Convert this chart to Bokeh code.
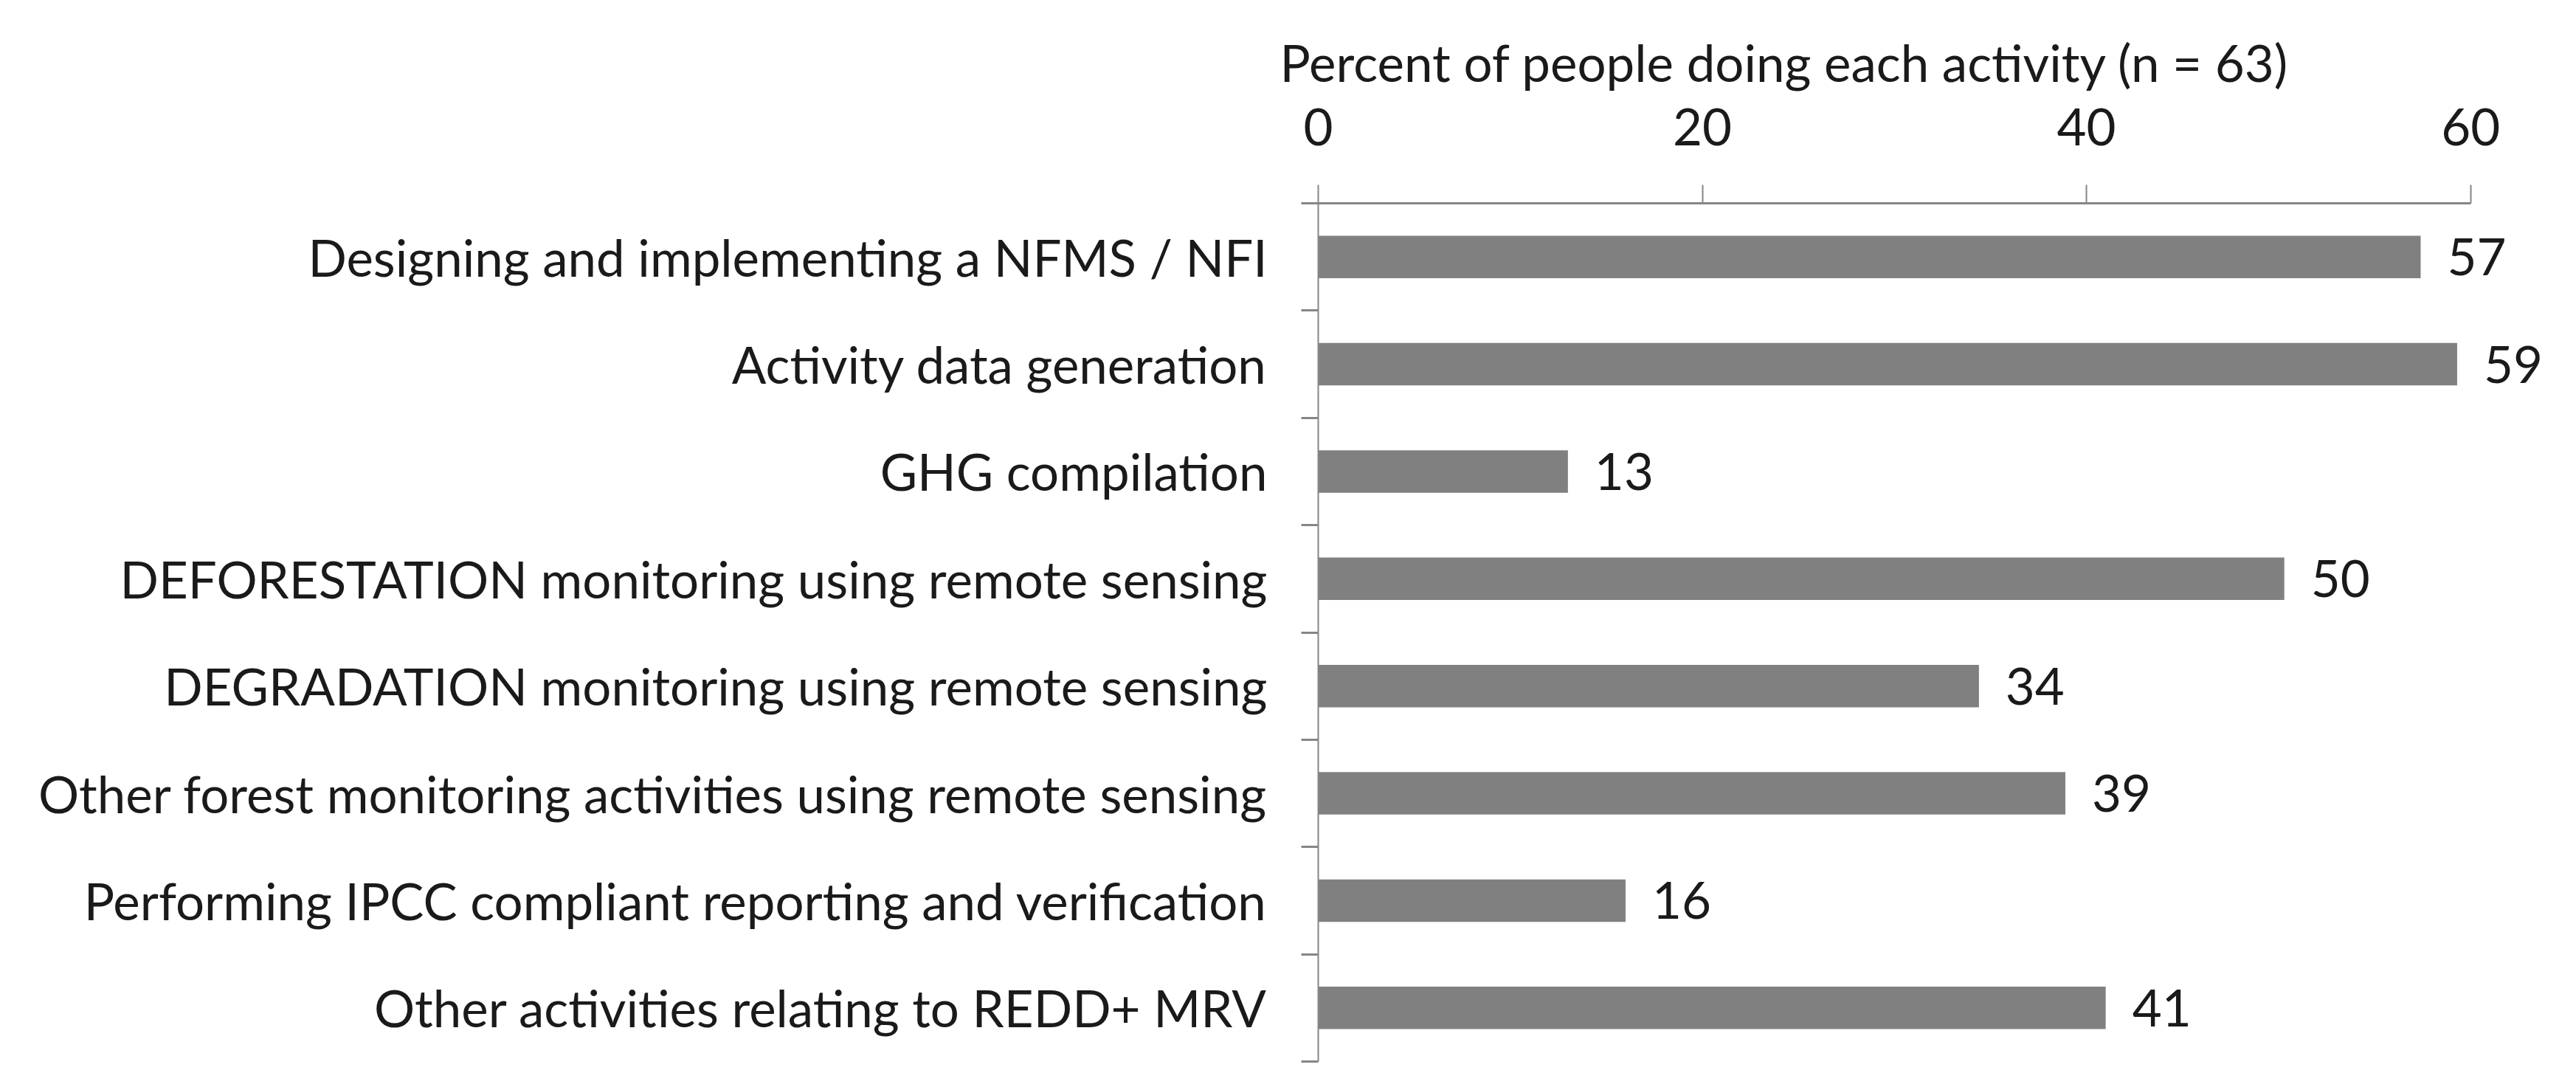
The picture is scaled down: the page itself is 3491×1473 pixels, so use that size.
from bokeh.plotting import figure
from bokeh.models import ColumnDataSource, FixedTicker, Range1d, LabelSet, Title
from bokeh.core.properties import value
from bokeh.embed import file_html
from bokeh.resources import INLINE

categories = [
    "Designing and implementing a NFMS / NFI",
    "Activity data generation",
    "GHG compilation",
    "DEFORESTATION monitoring using remote sensing",
    "DEGRADATION monitoring using remote sensing",
    "Other forest monitoring activities using remote sensing",
    "Performing IPCC compliant reporting and verification",
    "Other activities relating to REDD+ MRV",
]
values = [57.4, 59.3, 13.0, 50.3, 34.4, 38.9, 16.0, 41.0]
value_labels = ["57", "59", "13", "50", "34", "39", "16", "41"]
x_ticks = [0, 20, 40, 60]
axis_title = "Percent of people doing each activity (n = 63)"

FONT = "Lato"
FS = "69px"
GRAY = "#868686"
TXT = "#1a1a1a"

n = len(categories)
centers = [i + 0.5 for i in range(n)]
bounds = [float(i) for i in range(n + 1)]

src = ColumnDataSource(dict(y=centers, v=values, lab=value_labels))

p = figure(
    frame_width=1684, frame_height=1163,
    x_range=Range1d(0, 64.7), y_range=Range1d(n, 0),
    x_axis_location="above",
    output_backend="svg", toolbar_location=None,
    min_border_left=1786, min_border_top=275, min_border_right=0, min_border_bottom=20,
)
p.outline_line_color = None
p.xgrid.visible = False
p.ygrid.visible = False
p.background_fill_color = "white"

p.hbar(y="y", left=0, right="v", height=0.395, source=src,
       fill_color="#808080", line_color=None)

labels = LabelSet(x="v", y="y", text="lab", source=src, x_offset=36,
                  text_baseline="middle", text_align="left",
                  text_font=value(FONT), text_font_size=value(FS), text_color=TXT)
p.add_layout(labels)

# top axis
xa = p.xaxis[0]
xa.ticker = FixedTicker(ticks=x_ticks)
xa.bounds = (0, 60)
xa.major_tick_out = 25
xa.major_tick_in = 0
xa.minor_tick_out = 0
xa.minor_tick_in = 0
xa.axis_line_color = GRAY
xa.axis_line_width = 3
xa.major_tick_line_color = GRAY
xa.major_tick_line_width = 2
xa.major_label_text_font = FONT
xa.major_label_text_font_size = FS
xa.major_label_text_color = TXT
xa.major_label_standoff = 54

# left axis
ya = p.yaxis[0]
ya.ticker = FixedTicker(ticks=centers, minor_ticks=bounds)
ya.major_label_overrides = {c: lab for c, lab in zip(centers, categories)}
ya.major_tick_out = 0
ya.major_tick_in = 0
ya.major_tick_line_color = None
ya.minor_tick_out = 23
ya.minor_tick_in = 0
ya.minor_tick_line_color = GRAY
ya.minor_tick_line_width = 3
ya.axis_line_color = GRAY
ya.axis_line_width = 2
ya.major_label_text_font = FONT
ya.major_label_text_font_size = FS
ya.major_label_text_color = TXT
ya.major_label_standoff = 46

p.title = Title(text=axis_title, align="left", offset=-52,
                text_font=FONT, text_font_size=FS, text_font_style="normal",
                text_color=TXT, standoff=35)

open("out.html", "w").write(file_html(p, INLINE))
